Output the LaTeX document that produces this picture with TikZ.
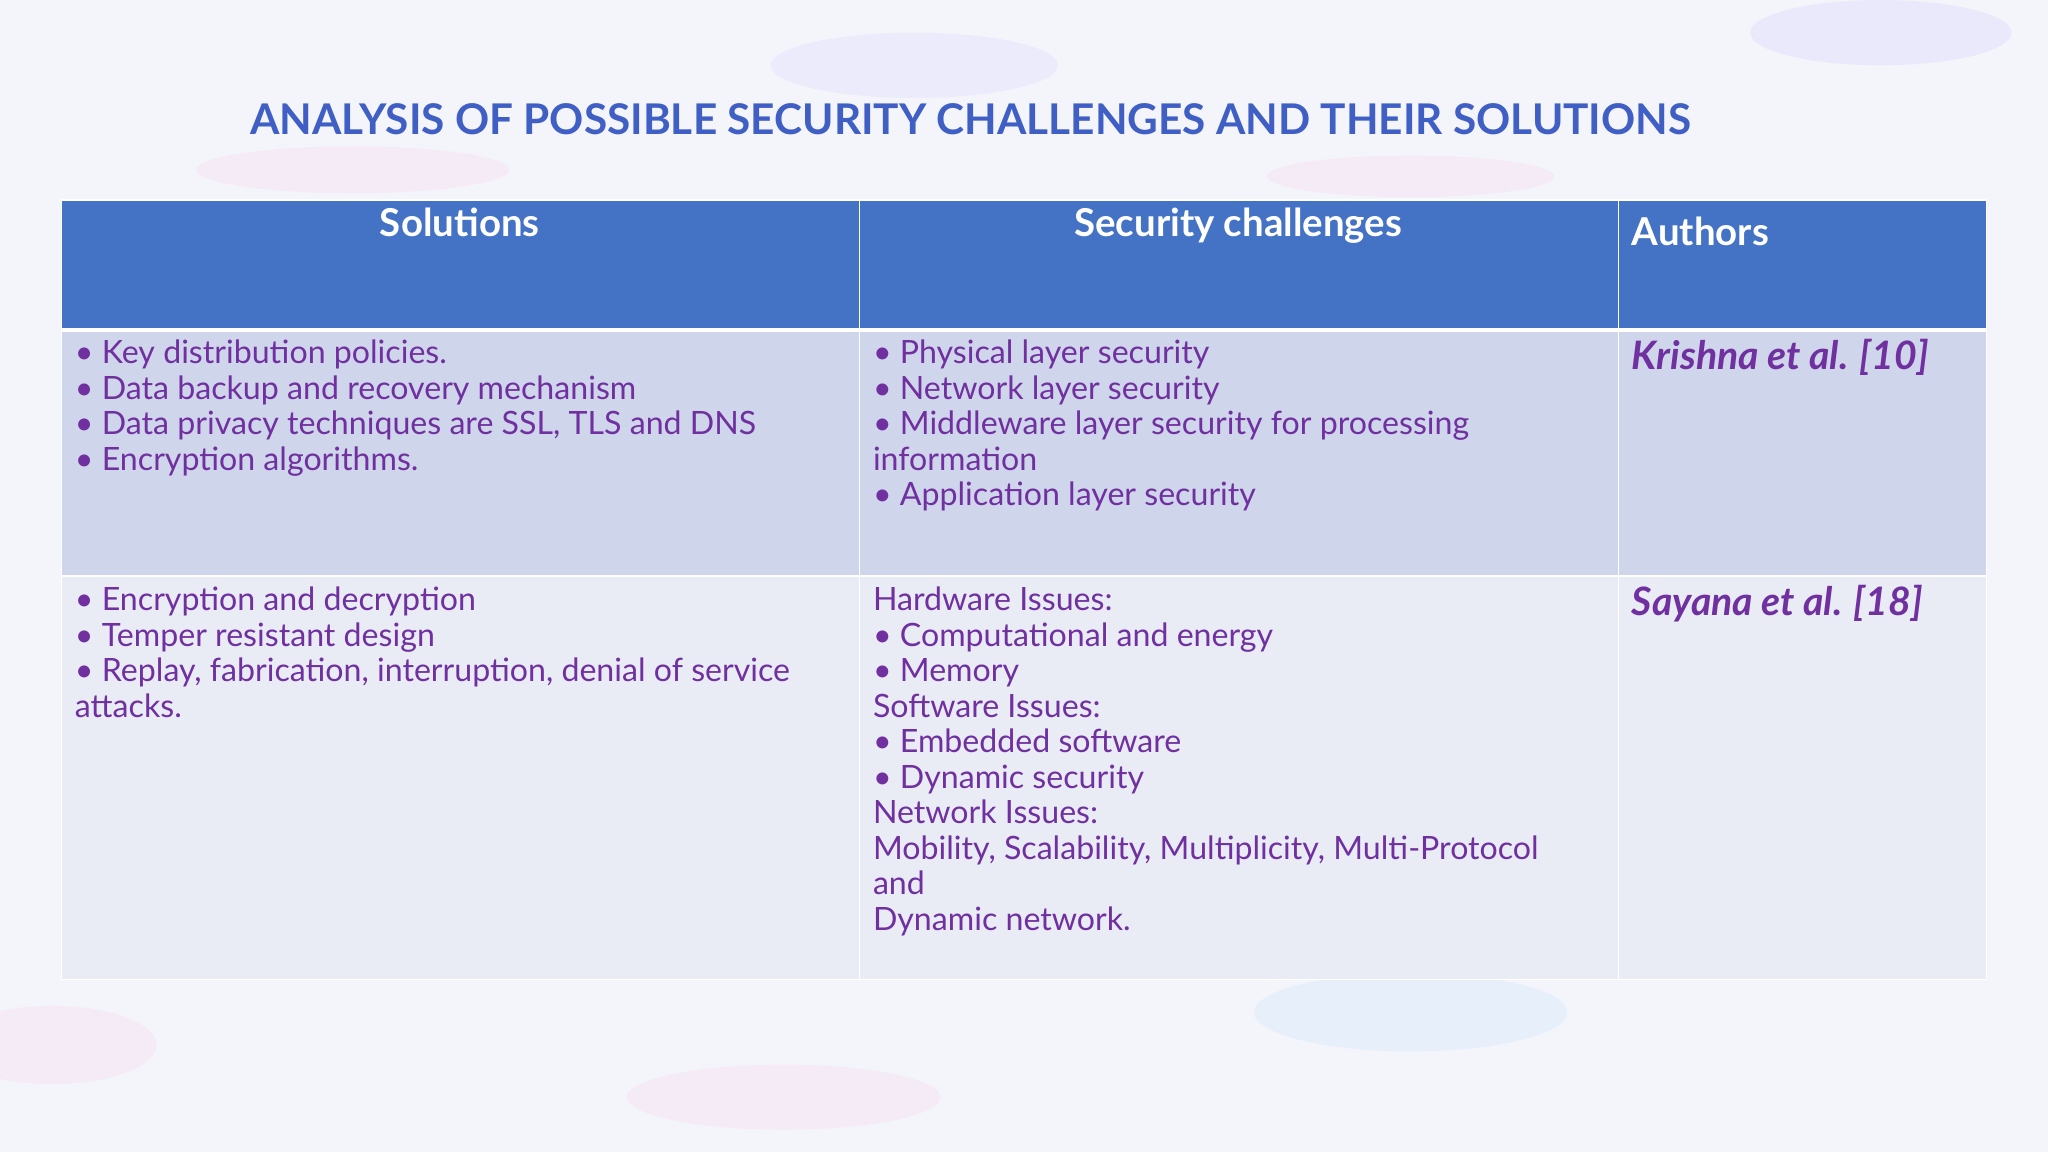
\documentclass[tikz,border=0pt]{standalone}
\usepackage{fontspec}
\setmainfont{Lato}
\begin{document}
\begin{tikzpicture}[x=0.5pt,y=-0.5pt]
\definecolor{bg}{HTML}{F4F4FB}
\definecolor{hdr}{HTML}{4472C4}
\definecolor{rowa}{HTML}{CFD5EA}
\definecolor{rowb}{HTML}{E9EBF5}
\definecolor{ttl}{HTML}{3F5FC4}
\definecolor{purp}{HTML}{7030A0}
\tikzset{
 cell/.style={anchor=north west,inner sep=0pt,align=left,font=\fontsize{12.3}{13.6}\selectfont,text=purp},
 hcell/.style={anchor=north,inner sep=0pt,font=\bfseries\fontsize{14.7}{16}\selectfont,text=white},
 auth/.style={anchor=north west,inner sep=0pt,font=\bfseries\itshape\fontsize{15}{16}\selectfont,text=purp},
 blob/.style={opacity=0.09}
}
\useasboundingbox (0,0) rectangle (1568,882);
\fill[bg] (0,0) rectangle (1568,882);
\fill[blob,blue!40] (700,50) ellipse (110 and 25);
\fill[blob,magenta!40] (270,130) ellipse (120 and 18);
\fill[blob,magenta!40] (1080,135) ellipse (110 and 16);
\fill[blob,blue!50] (1440,25) ellipse (100 and 25);
\fill[blob,cyan!60] (1080,775) ellipse (120 and 30);
\fill[blob,magenta!40] (600,840) ellipse (120 and 25);
\fill[blob,magenta!40] (40,800) ellipse (80 and 30);
\node[anchor=center,inner sep=0pt,font=\bfseries\fontsize{16.2}{18}\selectfont,text=ttl] (title) at (743,91) {ANALYSIS OF POSSIBLE SECURITY CHALLENGES AND THEIR SOLUTIONS};
% table
\fill[hdr] (47,153) rectangle (1521,252);
\fill[rowa] (47,253) rectangle (1521,441);
\fill[rowb] (47,441) rectangle (1521,750);
\draw[white,line width=1.5pt] (47,252.5) -- (1521,252.5);
\draw[white,line width=0.6pt] (47,441) -- (1521,441) (658,153) -- (658,750) (1239,153) -- (1239,750) (47,153) rectangle (1521,750);
\node[hcell] (h1) at (352,159) {Solutions};
\node[hcell] (h2) at (948,159) {Security challenges};
\node[hcell,anchor=north west] (h3) at (1249,166) {Authors};
\node[cell] (a1) at (57,260) {• Key distribution policies.\\• Data backup and recovery mechanism\\• Data privacy techniques are SSL, TLS and DNS\\• Encryption algorithms.};
\node[cell] (a2) at (668,260) {• Physical layer security\\• Network layer security\\• Middleware layer security for processing\\information\\• Application layer security};
\node[auth] (a3) at (1249,259) {Krishna et al. [10]};
\node[cell] (b1) at (57,449) {• Encryption and decryption\\• Temper resistant design\\• Replay, fabrication, interruption, denial of service\\attacks.};
\node[cell] (b2) at (668,449) {Hardware Issues:\\• Computational and energy\\• Memory\\Software Issues:\\• Embedded software\\• Dynamic security\\Network Issues:\\Mobility, Scalability, Multiplicity, Multi-Protocol\\and\\Dynamic network.};
\node[auth] (b3) at (1249,448) {Sayana et al. [18]};
\end{tikzpicture}
\end{document}
